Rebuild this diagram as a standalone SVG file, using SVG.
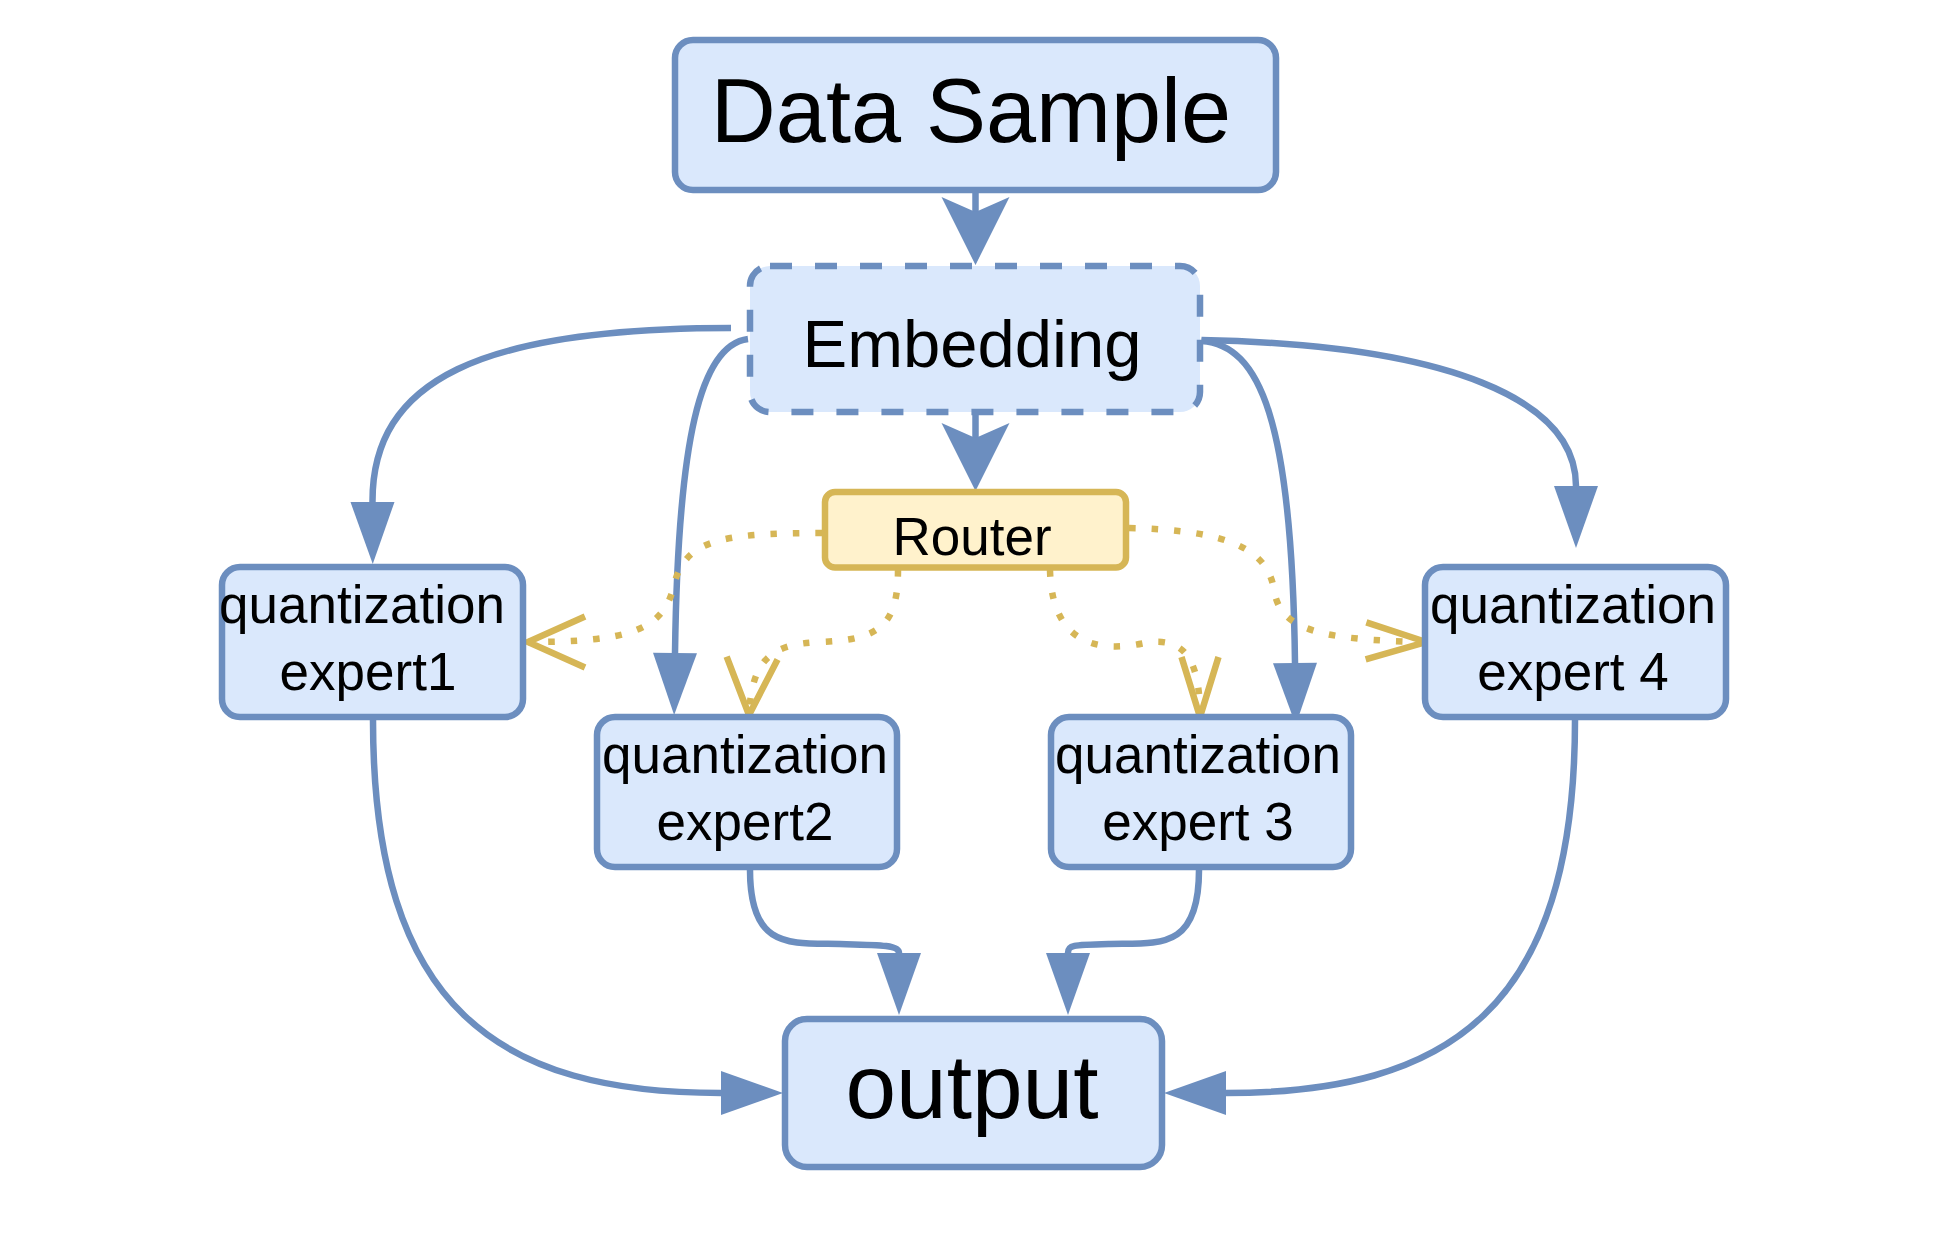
<svg xmlns="http://www.w3.org/2000/svg" width="1948" height="1256" viewBox="0 0 1948 1256">
<defs>
<style>
.box{fill:#dae8fc;stroke:#6c8ebf;stroke-width:6.5}
.emb{fill:#dae8fc;stroke:#6c8ebf;stroke-width:6.5;stroke-dasharray:22 23}
.router{fill:#fff2cc;stroke:#d6b656;stroke-width:6.5}
.t{font-family:"Liberation Sans",Arial,Helvetica,sans-serif;fill:#000;text-anchor:middle}
.edge{fill:none;stroke:#6c8ebf;stroke-width:6.5}
.dot{fill:none;stroke:#d6b656;stroke-width:6.5;stroke-dasharray:6.5 16}
</style>
<marker id="classic" markerUnits="userSpaceOnUse" orient="auto" refX="0" refY="0" markerWidth="10" markerHeight="10" overflow="visible">
<path d="M-15,-34 L53,0 L-15,34 L0,0 z" fill="#6c8ebf"/>
</marker>
<marker id="block" markerUnits="userSpaceOnUse" orient="auto" refX="0" refY="0" markerWidth="10" markerHeight="10" overflow="visible">
<path d="M0,-22 L62,0 L0,22 z" fill="#6c8ebf"/>
</marker>
<marker id="openA" markerUnits="userSpaceOnUse" orient="auto" refX="0" refY="0" markerWidth="10" markerHeight="10" overflow="visible">
<path d="M-57,-25.5 L0,0 L-57,25.5" fill="none" stroke="#d6b656" stroke-width="6.5"/>
</marker>
<marker id="openB" markerUnits="userSpaceOnUse" orient="auto" refX="0" refY="0" markerWidth="10" markerHeight="10" overflow="visible">
<path d="M-60,-18.5 L0,0 L-60,18.5" fill="none" stroke="#d6b656" stroke-width="6.5"/>
</marker>
</defs>
<rect width="1948" height="1256" fill="#ffffff"/>
<g id="connectors">
<path class="edge" d="M975.5,190 L975.5,212" marker-end="url(#classic)"/>
<path class="edge" d="M975.5,412 L975.5,438" marker-end="url(#classic)"/>
<path class="edge" d="M731,328 C480,328 372,380 372.5,502" marker-end="url(#block)"/>
<path class="edge" d="M748,339 C700,345 678,440 675,653" marker-end="url(#block)"/>
<path class="edge" d="M1201.5,341 C1260,345 1292,420 1295,663" marker-end="url(#block)"/>
<path class="edge" d="M1201.5,340 C1450,345 1576,400 1576,486" marker-end="url(#block)"/>
<path class="edge" d="M373,720 C373,1010 500,1093 721,1093" marker-end="url(#block)"/>
<path class="edge" d="M1575,720 C1575,1010 1448,1093 1226,1093" marker-end="url(#block)"/>
<path class="edge" d="M750,870 C750,950 790,943 840,944 C880,945 899,945 899,953" marker-end="url(#block)"/>
<path class="edge" d="M1199,870 C1199,950 1160,943 1110,944 C1072,945 1068,945 1068,953" marker-end="url(#block)"/>
<path class="dot" d="M822,533 C720,533 685,540 674,585 C664,630 630,642 528,642" marker-end="url(#openA)"/>
<path class="dot" d="M898,570 C898,625 880,640 820,642 C770,644 752,660 749,715" marker-end="url(#openA)"/>
<path class="dot" d="M1050,570 C1052,660 1120,648 1145,643 C1185,636 1200,660 1200,717" marker-end="url(#openB)"/>
<path class="dot" d="M1129,528 C1230,530 1268,550 1274,590 C1280,630 1320,640 1426,642" marker-end="url(#openB)"/>
</g>
<g id="data-sample">
<rect class="box" x="675" y="40" width="601" height="150" rx="18"/>
<text class="t" x="971" y="142" font-size="90">Data Sample</text>
</g>
<g id="embedding">
<rect class="emb" x="750" y="266" width="450" height="146" rx="20"/>
<text class="t" x="972" y="367" font-size="67">Embedding</text>
</g>
<g id="router">
<rect class="router" x="825" y="492" width="301" height="75.5" rx="10"/>
<text class="t" x="972" y="555" font-size="53">Router</text>
</g>
<g id="expert1">
<rect class="box" x="222" y="567" width="301" height="150" rx="18"/>
<text class="t" x="362" y="623" font-size="53">quantization</text>
<text class="t" x="368" y="690" font-size="53">expert1</text>
</g>
<g id="expert2">
<rect class="box" x="597" y="717" width="300" height="150" rx="18"/>
<text class="t" x="745" y="773" font-size="53">quantization</text>
<text class="t" x="745" y="840" font-size="53">expert2</text>
</g>
<g id="expert3">
<rect class="box" x="1051" y="717" width="300" height="150" rx="18"/>
<text class="t" x="1198" y="773" font-size="53">quantization</text>
<text class="t" x="1198" y="840" font-size="53">expert 3</text>
</g>
<g id="expert4">
<rect class="box" x="1425" y="567" width="301" height="150" rx="18"/>
<text class="t" x="1573" y="623" font-size="53">quantization</text>
<text class="t" x="1573" y="690" font-size="53">expert 4</text>
</g>
<g id="output">
<rect class="box" x="785" y="1019" width="377" height="148" rx="22"/>
<text class="t" x="972" y="1118" font-size="91">output</text>
</g>
</svg>
